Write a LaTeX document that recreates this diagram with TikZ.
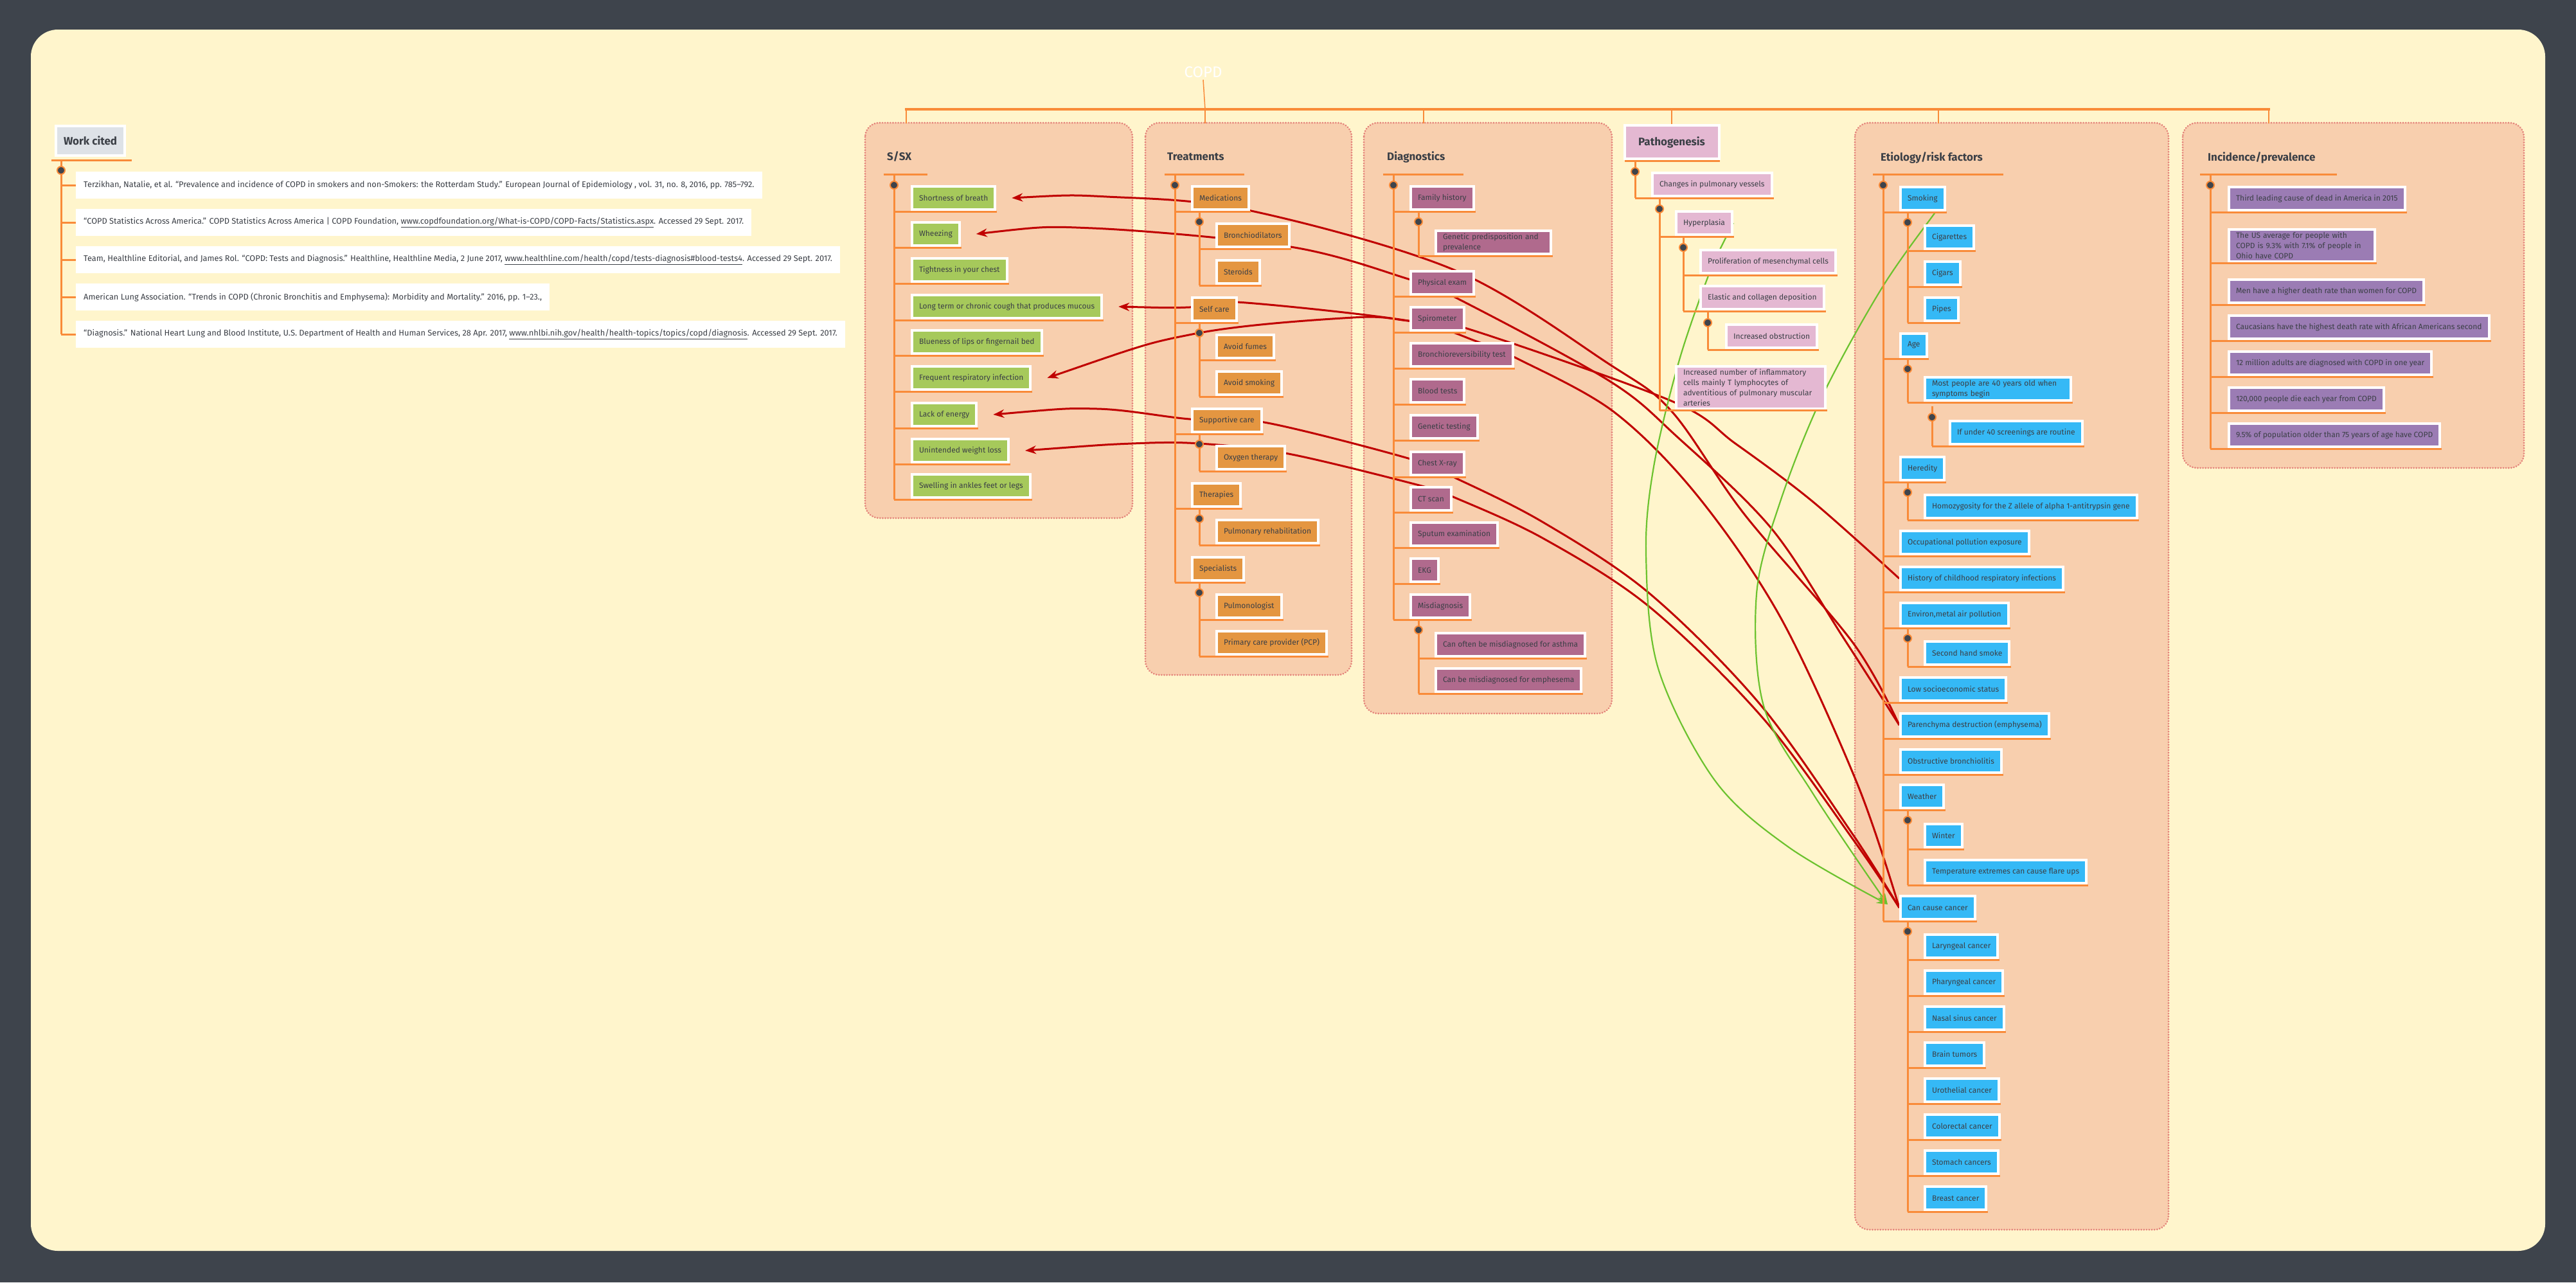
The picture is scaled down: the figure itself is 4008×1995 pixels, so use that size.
\documentclass[tikz,border=0pt]{standalone}
\usepackage{fontspec}
\setmainfont{Fira Sans}
\usetikzlibrary{calc,arrows.meta}
\pgfdeclarelayer{bg}\pgfdeclarelayer{links}\pgfsetlayers{bg,links,main}
\definecolor{dark}{HTML}{3E444C}
\definecolor{cream}{HTML}{FFF5CC}
\definecolor{peach}{HTML}{F8CFAE}
\definecolor{dotc}{HTML}{E4837A}
\definecolor{treec}{HTML}{F98B39}
\definecolor{txt}{HTML}{3B3F46}
\definecolor{cS}{HTML}{A6C95B}
\definecolor{cT}{HTML}{E49641}
\definecolor{cD}{HTML}{B06A8D}
\definecolor{cP}{HTML}{E4B8D2}
\definecolor{cE}{HTML}{35B9F6}
\definecolor{cI}{HTML}{9B7CB4}
\definecolor{wgrey}{HTML}{DEE2E7}
\definecolor{redl}{HTML}{C00000}
\definecolor{greenl}{HTML}{6CC22E}
\tikzset{
 box/.style={draw=white,line width=4pt,inner xsep=11pt,inner ysep=4pt,minimum height=36pt,text=txt,anchor=west,align=left,font=\fontsize{12}{16}\selectfont,execute at begin node={\hyphenpenalty=10000\relax}},
 tree/.style={draw=treec,line width=3pt},
 thin tree/.style={draw=treec,line width=1.5pt},
 dotn/.style={circle,fill=dark,draw=treec,line width=2pt,minimum size=12pt,inner sep=0pt},
 panel/.style={fill=peach,draw=dotc,line width=3pt,dash pattern=on 0.1pt off 4pt,line cap=round,rounded corners=22pt},
 ttl/.style={anchor=west,text=txt,font=\fontsize{17}{20}\selectfont\bfseries,inner sep=0pt},
 ref/.style={fill=white,anchor=west,inner xsep=12pt,minimum height=42pt,text=txt,font=\fontsize{12.8}{15}\selectfont},
 redlink/.style={draw=redl,line width=3pt,arrows={Stealth[length=17pt,width=13pt]-}},
 greenlink/.style={draw=greenl,line width=2.2pt,arrows={-Stealth[length=17pt,width=13pt]}}
}
\newcommand\lf[6]{\node[box,fill=#5] (#1) at (#3,#4) {#6};\draw[tree] ([yshift=-1pt,xshift=1pt]#1.south east) -- ([yshift=-1pt]#1.south -| #2);}
\newcommand\vl[2]{\draw[tree] (#1) -- ([yshift=-1pt]#2.south -| #1);\node[dotn] at ($(#1)+(0,17)$) {};}
\begin{document}
\begin{tikzpicture}[x=1pt,y=-1pt]
\useasboundingbox (0,0) rectangle (4008,1995);
\begin{pgfonlayer}{bg}
\fill[dark] (0,0) rectangle (4008,1995);
\fill[cream,rounded corners=42pt] (48,46) rectangle (3960,1946);
\draw[panel] (1346,191) rectangle (1762,806);
\draw[panel] (1782,191) rectangle (2103,1050);
\draw[panel] (2122,191) rectangle (2508,1110);
\draw[panel] (2886,191) rectangle (3374,1913);
\draw[panel] (3396,191) rectangle (3927,728);
\end{pgfonlayer}
% title
\node[text=white,font=\fontsize{24}{28}\selectfont] (copd) at (1872,112) {COPD};
\draw[thin tree] (copd.south) -- (1875,170);
\draw[draw=treec,line width=4pt] (1408,170) -- (3532,170);
\foreach \x in {1410,1875,2215,3016,3530} \draw[thin tree] (\x,170) -- (\x,192);
% Work cited
\node[box,fill=wgrey,anchor=west,font=\fontsize{17}{20}\selectfont\bfseries,minimum height=46pt,inner xsep=12pt] (wc) at (85,219) {Work cited};
\draw[tree] (80,249) -- (205,249);
\coordinate (vW) at (95,249);
\node[ref] (r1) at (118,288) {Terzikhan, Natalie, et al. “Prevalence and incidence of COPD in smokers and non-Smokers: the Rotterdam Study.” European Journal of Epidemiology , vol. 31, no. 8, 2016, pp. 785–792.};
\node[ref] (r2) at (118,346) {“COPD Statistics Across America.” COPD Statistics Across America | COPD Foundation, \underline{www.copdfoundation.org/What-is-COPD/COPD-Facts/Statistics.aspx}. Accessed 29 Sept. 2017.};
\node[ref] (r3) at (118,404) {Team, Healthline Editorial, and James Rol. “COPD: Tests and Diagnosis.” Healthline, Healthline Media, 2 June 2017, \underline{www.healthline.com/health/copd/tests-diagnosis\#blood-tests4}. Accessed 29 Sept. 2017.};
\node[ref] (r4) at (118,462) {American Lung Association. “Trends in COPD (Chronic Bronchitis and Emphysema): Morbidity and Mortality.” 2016, pp. 1–23.,};
\node[ref] (r5) at (118,520) {“Diagnosis.” National Heart Lung and Blood Institute, U.S. Department of Health and Human Services, 28 Apr. 2017, \underline{www.nhlbi.nih.gov/health/health-topics/topics/copd/diagnosis}. Accessed 29 Sept. 2017.};
\draw[tree] (vW) -- (r5.west -| vW);
\foreach \r in {r1,r2,r3,r4,r5} \draw[tree] (\r.west) -- (\r.west -| vW);
\node[dotn] at (95,265) {};
% S/SX
\node[ttl] (tS) at (1380,244) {S/SX};
\draw[tree] (1375,271) -- (1443,271);
\coordinate (vS) at (1391,271);
\lf{sh}{vS}{1417}{308}{cS}{Shortness of breath}
\lf{wh}{vS}{1417}{364}{cS}{Wheezing}
\lf{ti}{vS}{1417}{420}{cS}{Tightness in your chest}
\lf{lt}{vS}{1417}{477}{cS}{Long term or chronic cough that produces mucous}
\lf{bl}{vS}{1417}{532}{cS}{Blueness of lips or fingernail bed}
\lf{fr}{vS}{1417}{588}{cS}{Frequent respiratory infection}
\lf{la}{vS}{1417}{645}{cS}{Lack of energy}
\lf{un}{vS}{1417}{701}{cS}{Unintended weight loss}
\lf{sw}{vS}{1417}{756}{cS}{Swelling in ankles feet or legs}
\vl{vS}{sw}
% Treatments
\node[ttl] (tT) at (1816,244) {Treatments};
\draw[tree] (1812,271) -- (1936,271);
\coordinate (vT) at (1828,271);
\coordinate (vT1) at (1866,328);\coordinate (vT2) at (1866,501);\coordinate (vT3) at (1866,674);
\coordinate (vT4) at (1866,790);\coordinate (vT5) at (1866,905);
\lf{med}{vT}{1853}{308}{cT}{Medications}
\lf{bro}{vT1}{1891}{366}{cT}{Bronchiodilators}
\lf{ste}{vT1}{1891}{423}{cT}{Steroids}
\lf{sel}{vT}{1853}{481}{cT}{Self care}
\lf{fum}{vT2}{1891}{539}{cT}{Avoid fumes}
\lf{smk}{vT2}{1891}{596}{cT}{Avoid smoking}
\lf{sup}{vT}{1853}{654}{cT}{Supportive care}
\lf{oxy}{vT3}{1891}{712}{cT}{Oxygen therapy}
\lf{the}{vT}{1853}{770}{cT}{Therapies}
\lf{pul}{vT4}{1891}{827}{cT}{Pulmonary rehabilitation}
\lf{spe}{vT}{1853}{885}{cT}{Specialists}
\lf{pmn}{vT5}{1891}{943}{cT}{Pulmonologist}
\lf{pcp}{vT5}{1891}{1000}{cT}{Primary care provider (PCP)}
\vl{vT}{spe}\vl{vT1}{ste}\vl{vT2}{smk}\vl{vT3}{oxy}\vl{vT4}{pul}\vl{vT5}{pcp}
% Diagnostics
\node[ttl] (tD) at (2158,244) {Diagnostics};
\draw[tree] (2152,271) -- (2277,271);
\coordinate (vD) at (2168,271);
\coordinate (vD1) at (2207,328);\coordinate (vD2) at (2207,963);
\lf{fam}{vD}{2193}{308}{cD}{Family history}
\lf{gen}{vD1}{2232}{377}{cD,text width=157pt}{Genetic predisposition and prevalence}
\lf{phy}{vD}{2193}{440}{cD}{Physical exam}
\lf{spi}{vD}{2193}{496}{cD}{Spirometer}
\lf{brt}{vD}{2193}{552}{cD}{Bronchioreversibility test}
\lf{blo}{vD}{2193}{608}{cD}{Blood tests}
\lf{gtt}{vD}{2193}{664}{cD}{Genetic testing}
\lf{cxr}{vD}{2193}{721}{cD}{Chest X-ray}
\lf{cts}{vD}{2193}{776}{cD}{CT scan}
\lf{spu}{vD}{2193}{831}{cD}{Sputum examination}
\lf{ekg}{vD}{2193}{887}{cD}{EKG}
\lf{mis}{vD}{2193}{943}{cD}{Misdiagnosis}
\lf{cao}{vD2}{2232}{1003}{cD}{Can often be misdiagnosed for asthma}
\lf{cbm}{vD2}{2232}{1058}{cD}{Can be misdiagnosed for emphesema}
\vl{vD}{mis}\vl{vD1}{gen}\vl{vD2}{cbm}
% Pathogenesis
\node[box,fill=cP,anchor=center,minimum width=147pt,minimum height=52pt,font=\fontsize{17}{20}\selectfont\bfseries] (pat) at (2601,221) {Pathogenesis};
\draw[thin tree] (2601,171) -- (pat.north);
\draw[tree] (2528,250) -- (2676,250);
\coordinate (vP) at (2544,250);\coordinate (vP2) at (2582,308);
\coordinate (vP3) at (2619,368);\coordinate (vP4) at (2657,485);
\lf{chg}{vP}{2569}{287}{cP}{Changes in pulmonary vessels}
\lf{hyp}{vP2}{2606}{347}{cP}{Hyperplasia}
\lf{pro}{vP3}{2644}{407}{cP}{Proliferation of mesenchymal cells}
\lf{ela}{vP3}{2644}{463}{cP}{Elastic and collagen deposition}
\lf{obs}{vP4}{2684}{523}{cP}{Increased obstruction}
\lf{inc}{vP2}{2606}{603}{cP,text width=210pt}{Increased number of inflammatory cells mainly T lymphocytes of adventitious of pulmonary muscular arteries}
\vl{vP}{chg}\vl{vP2}{inc}\vl{vP3}{ela}\vl{vP4}{obs}
% Etiology
\node[ttl] (tE) at (2926,245) {Etiology/risk factors};
\draw[tree] (2914,271) -- (3117,271);
\coordinate (vE) at (2930,271);
\coordinate (vE1) at (2968,329);\coordinate (vE2) at (2968,557);\coordinate (vE3) at (3006,632);
\coordinate (vE4) at (2968,749);\coordinate (vE5) at (2968,976);\coordinate (vE6) at (2968,1259);
\coordinate (vE7) at (2968,1432);
\lf{smo}{vE}{2955}{309}{cE}{Smoking}
\lf{cig}{vE1}{2993}{369}{cE}{Cigarettes}
\lf{cgr}{vE1}{2993}{425}{cE}{Cigars}
\lf{pip}{vE1}{2993}{481}{cE}{Pipes}
\lf{age}{vE}{2955}{537}{cE}{Age}
\lf{mos}{vE2}{2993}{605}{cE,text width=205pt}{Most people are 40 years old when symptoms begin}
\lf{und}{vE3}{3032}{673}{cE}{If under 40 screenings are routine}
\lf{her}{vE}{2955}{729}{cE}{Heredity}
\lf{hom}{vE4}{2993}{788}{cE}{Homozygosity for the Z allele of alpha 1-antitrypsin gene}
\lf{occ}{vE}{2955}{844}{cE}{Occupational pollution exposure}
\lf{his}{vE}{2955}{900}{cE}{History of childhood respiratory infections}
\lf{env}{vE}{2955}{956}{cE}{Environ,metal air pollution}
\lf{sec}{vE5}{2993}{1016}{cE}{Second hand smoke}
\lf{low}{vE}{2955}{1072}{cE}{Low socioeconomic status}
\lf{par}{vE}{2955}{1128}{cE}{Parenchyma destruction (emphysema)}
\lf{obb}{vE}{2955}{1184}{cE}{Obstructive bronchiolitis}
\lf{wea}{vE}{2955}{1239}{cE}{Weather}
\lf{win}{vE6}{2993}{1300}{cE}{Winter}
\lf{tem}{vE6}{2993}{1356}{cE}{Temperature extremes can cause flare ups}
\lf{can}{vE}{2955}{1412}{cE}{Can cause cancer}
\lf{lar}{vE7}{2993}{1472}{cE}{Laryngeal cancer}
\lf{pha}{vE7}{2993}{1528}{cE}{Pharyngeal cancer}
\lf{nas}{vE7}{2993}{1584}{cE}{Nasal sinus cancer}
\lf{bra}{vE7}{2993}{1640}{cE}{Brain tumors}
\lf{uro}{vE7}{2993}{1696}{cE}{Urothelial cancer}
\lf{col}{vE7}{2993}{1752}{cE}{Colorectal cancer}
\lf{sto}{vE7}{2993}{1808}{cE}{Stomach cancers}
\lf{bre}{vE7}{2993}{1864}{cE}{Breast cancer}
\vl{vE}{can}\vl{vE1}{pip}\vl{vE2}{mos}\vl{vE3}{und}\vl{vE4}{hom}\vl{vE5}{sec}\vl{vE6}{tem}\vl{vE7}{bre}
% Incidence
\node[ttl] (tI) at (3435,245) {Incidence/prevalence};
\draw[tree] (3423,271) -- (3636,271);
\coordinate (vI) at (3439,271);
\lf{thi}{vI}{3466}{309}{cI}{Third leading cause of dead in America in 2015}
\lf{usa}{vI}{3466}{382}{cI,text width=205pt}{The US average for people with COPD is 9.3\% with 7.1\% of people in Ohio have COPD}
\lf{men}{vI}{3466}{453}{cI}{Men have a higher death rate than women for COPD}
\lf{cau}{vI}{3466}{509}{cI}{Caucasians have the highest death rate with African Americans second}
\lf{mil}{vI}{3466}{565}{cI}{12 million adults are diagnosed with COPD in one year}
\lf{die}{vI}{3466}{621}{cI}{120,000 people die each year from COPD}
\lf{pct}{vI}{3466}{677}{cI}{9.5\% of population older than 75 years of age have COPD}
\vl{vI}{pct}
% links
\begin{pgfonlayer}{links}
\draw[redlink] plot[smooth,tension=0.55] coordinates {([xshift=24pt]sh.east) (1722,306) (1942,327) (2265,421) (2503,566) (2601,640) (2714,800) (2883,1000) (par.west)};
\draw[redlink] plot[smooth,tension=0.55] coordinates {([xshift=24pt]wh.east) (1700,355) (2008,384) (2191,434) (2261,461) (2503,592) (2610,680) (2756,822) (2868,992) (par.west)};
\draw[redlink] plot[smooth,tension=0.55] coordinates {([xshift=24pt]lt.east) (1851,478) (1925,470) (2191,499) (2300,532) (2359,557) (2510,640) (2640,770) (2770,960) (2890,1220) (can.west)};
\draw[redlink] plot[smooth,tension=0.55] coordinates {([xshift=24pt]fr.east) (1860,519) (2105,494) (2191,499) (2279,510) (2601,624) (2700,690) (2820,780) (his.west)};
\draw[redlink] plot[smooth,tension=0.55] coordinates {([xshift=24pt]la.east) (1707,636) (1851,652) (1967,657) (2191,713) (2261,742) (2400,812) (2565,922) (2737,1094) (2882,1297) (can.west)};
\draw[redlink] plot[smooth,tension=0.55] coordinates {([xshift=24pt]un.east) (1761,690) (1866,690) (2005,706) (2216,757) (2261,773) (2400,837) (2565,943) (2741,1115) (2886,1310) (can.west)};
\draw[greenlink] plot[smooth,tension=0.55] coordinates {(hyp.east) (2686,368) (2658,429) (2612,563) (2573,726) (2561,862) (2580,1040) (2668,1214) (2783,1318) ([xshift=-18pt,yshift=5pt]can.west)};
\draw[greenlink] plot[smooth,tension=0.55] coordinates {(smo.east) (3012,329) (2928,448) (2835,617) (2770,780) (2733,924) (2744,1098) (2821,1235) ([xshift=-18pt,yshift=5pt]can.west)};
\end{pgfonlayer}
\end{tikzpicture}
\end{document}
